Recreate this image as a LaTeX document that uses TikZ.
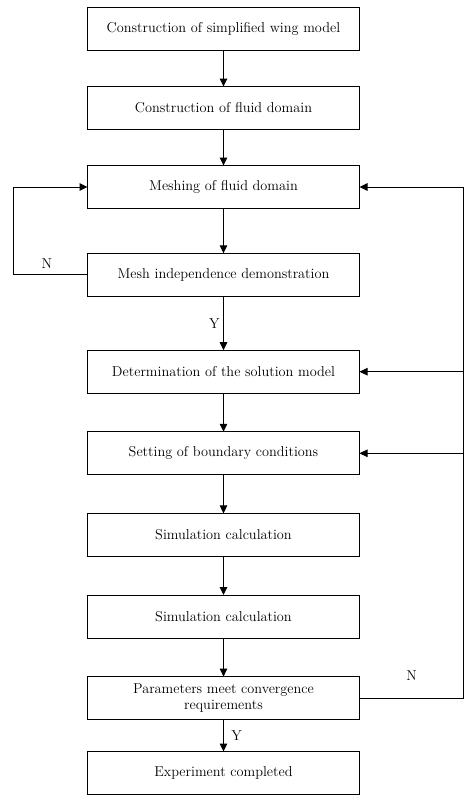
\documentclass[tikz,border=0pt]{standalone}
\usetikzlibrary{positioning,arrows.meta}

\begin{document}
\begin{tikzpicture}[
    x=1pt, y=1pt,
    node distance=38.6pt,
    stepbox/.style={
        rectangle,
        draw,
        line width=1pt,
        outer sep=0pt,
        minimum width=272pt,
        minimum height=43pt,
        align=center,
        font=\fontsize{14.3}{16.5}\selectfont
    },
    line/.style={
        draw,
        line width=1pt,
        -{Triangle[length=8pt,width=7.5pt]}
    },
    tag/.style={
        font=\fontsize{14.3}{16.5}\selectfont
    }
]
    \useasboundingbox (0,0) rectangle (474,-809);

    % --- Main column ---
    \node [stepbox] (wing) at (223.5,-28.8) {Construction of simplified wing model};
    \node [stepbox, below=36.2pt of wing] (domain) {Construction of fluid domain};
    \node [stepbox, below=36pt of domain] (mesh) {Meshing of fluid domain};
    \node [stepbox, below=44.8pt of mesh] (indep) {Mesh independence demonstration};
    \node [stepbox, below=53.9pt of indep] (solver) {Determination of the solution model};
    \node [stepbox, below=of solver] (bound) {Setting of boundary conditions};
    \node [stepbox, below=of bound] (simA) {Simulation calculation};
    \node [stepbox, below=of simA] (simB) {Simulation calculation};
    \node [stepbox, below=of simB] (conv) {Parameters meet convergence\\requirements};
    \node [stepbox, below=31.9pt of conv] (done) {Experiment completed};

    % --- Loop corners ---
    \coordinate (nleft) at ([xshift=-74pt]indep.west);
    \coordinate (nright) at ([xshift=104.3pt]conv.east);

    % --- Straight flow ---
    \path [line] (wing) -- (domain);
    \path [line] (domain) -- (mesh);
    \path [line] (mesh) -- (indep);
    \path [line] (indep) -- node[left, tag] {Y} (solver);
    \path [line] (solver) -- (bound);
    \path [line] (bound) -- (simA);
    \path [line] (simA) -- (simB);
    \path [line] (simB) -- (conv);
    \path [line] (conv) -- node[right, tag, xshift=4pt] {Y} (done);

    % --- Mesh loop (N) ---
    \path [line] (indep.west) -- node[above, tag, pos=0.55, yshift=2pt] {N} (nleft) |- (mesh.west);

    % --- Convergence loop (N) ---
    \path [line] (conv.east) -- node[above, tag, yshift=14pt] {N} (nright) |- (mesh.east);
    \path [line] (nright |- solver.east) -- (solver.east);
    \path [line] (nright |- bound.east) -- (bound.east);

\end{tikzpicture}
\end{document}
